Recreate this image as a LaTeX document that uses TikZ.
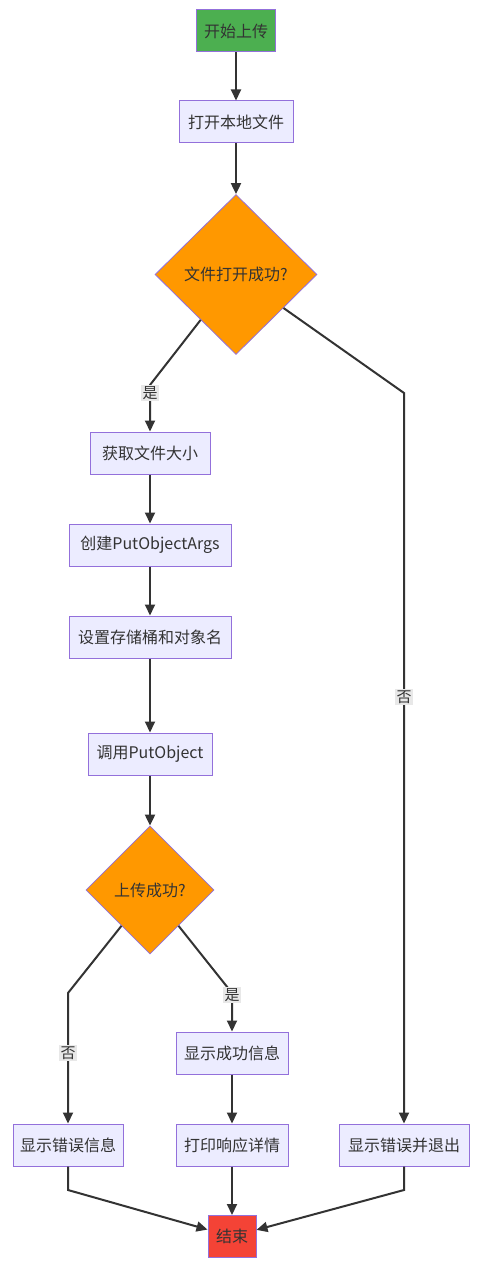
\documentclass[tikz,border=0pt]{standalone}
\usepackage{fontspec}
\setmainfont{Noto Sans CJK SC}
\usetikzlibrary{arrows.meta, shapes.geometric}

\definecolor{boxfill}{HTML}{ECECFF}
\definecolor{boxline}{HTML}{9370DB}
\definecolor{startgreen}{HTML}{4CAF50}
\definecolor{endred}{HTML}{F44336}
\definecolor{decorange}{HTML}{FF9800}
\definecolor{inkgray}{HTML}{333333}
\definecolor{lblgray}{HTML}{E8E8E8}

\begin{document}
\begin{tikzpicture}[x=1pt, y=-1pt,
  every node/.style={font=\fontsize{16}{19}\selectfont, text=inkgray},
  block/.style={rectangle, draw=boxline, line width=1pt, fill=boxfill, align=center,
    minimum height=42pt, inner sep=0pt},
  startbox/.style={block, fill=startgreen},
  endbox/.style={block, fill=endred},
  decision/.style={diamond, draw=boxline, line width=0.8pt, fill=decorange, inner sep=0pt},
  lbl/.style={fill=lblgray, inner sep=1.5pt, font=\fontsize{15}{17}\selectfont},
  arrow/.style={-{Triangle[length=11pt, width=10pt]}, draw=inkgray, line width=2pt}]

\useasboundingbox (0,0) rectangle (485,1281);

\node[startbox, minimum width=79pt] (start) at (236,31) {开始上传};
\node[block, minimum width=114pt] (open) at (236,122) {打开本地文件};
\node[decision, minimum width=162pt, minimum height=160pt] (d1) at (236,274.5) {文件打开成功?};
\node[block, minimum width=120pt] (size) at (150,453) {获取文件大小};
\node[block, minimum width=162pt] (args) at (150,545) {创建PutObjectArgs};
\node[block, minimum width=162pt] (setname) at (150,637) {设置存储桶和对象名};
\node[block, minimum width=124pt] (call) at (150,754) {调用PutObject};
\node[decision, minimum width=128pt, minimum height=128pt] (d2) at (150,890) {上传成功?};
\node[block, minimum width=112pt] (okmsg) at (232,1053) {显示成功信息};
\node[block, minimum width=110pt] (errmsg) at (68,1145) {显示错误信息};
\node[block, minimum width=112pt] (detail) at (232,1145) {打印响应详情};
\node[block, minimum width=130pt] (exitmsg) at (404,1145) {显示错误并退出};
\node[endbox, minimum width=48pt] (finish) at (232,1236.5) {结束};

\coordinate (yesbend) at (150,385);
\coordinate (nobend) at (404,393);
\coordinate (errbend) at (68,993);
\coordinate (okbend) at (232,993);
\coordinate (errdown) at (68,1190);
\coordinate (exitdown) at (404,1190);

\draw[arrow] (start) -- (open);
\draw[arrow] (open) -- (d1);
\draw[arrow] (d1) -- (yesbend) -- node[lbl, pos=0.17]{是} (size);
\draw[arrow] (d1) -- (nobend) -- node[lbl, pos=0.416]{否} (exitmsg);
\draw[arrow] (size) -- (args);
\draw[arrow] (args) -- (setname);
\draw[arrow] (setname) -- (call);
\draw[arrow] (call) -- (d2);
\draw[arrow] (d2) -- (errbend) -- node[lbl, pos=0.46]{否} (errmsg);
\draw[arrow] (d2) -- (okbend) -- node[lbl, pos=0.05]{是} (okmsg);
\draw[arrow] (okmsg) -- (detail);
\draw[arrow] (errmsg) -- (errdown) -- (finish);
\draw[arrow] (detail) -- (finish);
\draw[arrow] (exitmsg) -- (exitdown) -- (finish);

\end{tikzpicture}
\end{document}
